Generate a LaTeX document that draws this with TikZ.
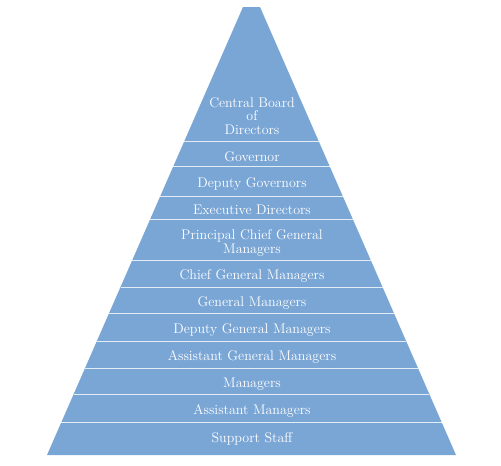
\documentclass[tikz,border=0pt]{standalone}
\usetikzlibrary{calc}
\definecolor{pyrfill}{RGB}{122,166,214}
\definecolor{sepline}{RGB}{225,236,247}
\tikzset{
  lvl/.style={text=white, align=center, font=\fontsize{14}{13.5}\selectfont, inner sep=0pt},
  sep/.style={draw=sepline, line width=1pt}
}
\begin{document}
\begin{tikzpicture}[x=1pt,y=-1pt]
\useasboundingbox (0,0) rectangle (501,466);
\coordinate (TL) at (243,7);
\coordinate (TR) at (260,7);
\coordinate (BL) at (47,455);
\coordinate (BR) at (456,455);
\fill[pyrfill] (TL) -- (TR) -- (BR) -- (BL) -- cycle;
\foreach \yy in {142,167,196,220,260,287,314,341,368,394,422} {
  \pgfmathsetmacro\tt{(\yy-7)/448}
  \draw[sep] ($(TL)!\tt!(BL)$) -- ($(TR)!\tt!(BR)$);
}
\node[lvl] (cb) at (252,116) {Central Board\\of\\Directors};
\node[lvl] (gov) at (252,157) {Governor};
\node[lvl] (dg) at (252,184) {Deputy Governors};
\node[lvl] (ed) at (252,210) {Executive Directors};
\node[lvl] (pcgm) at (252,243) {Principal Chief General\\Managers};
\node[lvl] (cgm) at (252,276) {Chief General Managers};
\node[lvl] (gm) at (252,303) {General Managers};
\node[lvl] (dgm) at (252,330) {Deputy General Managers};
\node[lvl] (agm) at (252,357) {Assistant General Managers};
\node[lvl] (mgr) at (252,384) {Managers};
\node[lvl] (am) at (252,411) {Assistant Managers};
\node[lvl] (ss) at (252,439) {Support Staff};
\end{tikzpicture}
\end{document}
